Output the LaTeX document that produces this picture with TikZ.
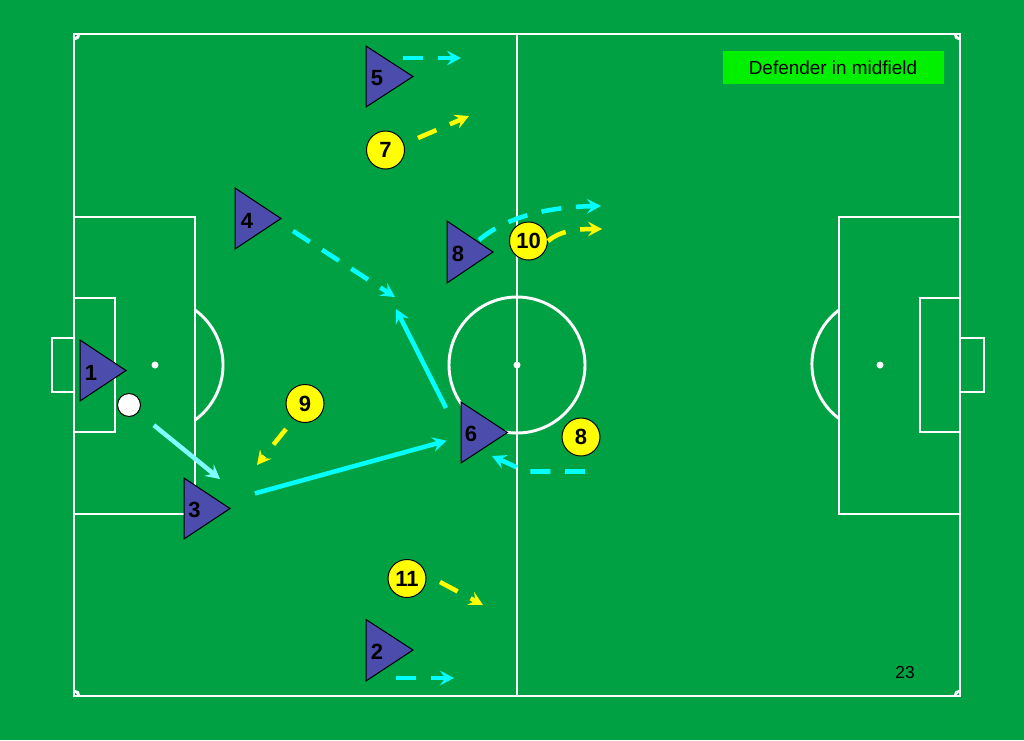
\documentclass[tikz,border=0pt]{standalone}
\usepackage{fontspec}
\setmainfont{Liberation Sans}
\usetikzlibrary{arrows.meta}

\definecolor{pitchGreen}{RGB}{0,161,67}
\definecolor{tagGreen}{RGB}{0,240,0}
\definecolor{playerBlue}{RGB}{76,76,172}
\definecolor{runCyan}{RGB}{0,255,255}
\definecolor{passCyan}{RGB}{128,255,255}
\definecolor{runYellow}{RGB}{255,255,0}

\tikzset{every picture/.style={line width=0.75pt}}
\tikzset{
  pitchline/.style={draw=white,line width=2.2pt},
  player/.style={draw=black,fill=playerBlue,line width=0.75pt},
  shirt/.style={font=\fontsize{16.5}{16.5}\selectfont\bfseries,inner sep=0pt},
  rival/.style={circle,draw=black,fill=runYellow,line width=0.75pt,minimum size=28.5pt,inner sep=0pt,font=\fontsize{16.5}{16.5}\selectfont\bfseries},
  runhead/.style={-{Stealth[length=10.5pt,width=11pt,inset=4pt]}},
  cyanrun/.style={runhead,draw=runCyan,line width=3.4pt,dash pattern=on 15pt off 11pt},
  yellowrun/.style={runhead,draw=runYellow,line width=3.4pt,dash pattern=on 15pt off 11pt},
  passline/.style={runhead,draw=runCyan,line width=3.4pt},
}

\begin{document}
\begin{tikzpicture}[x=0.75pt,y=0.75pt,yscale=-1,xscale=1]
%Shape: Rectangle [background]
\fill[pitchGreen] (0,0) rectangle (1024,740);
\useasboundingbox (0,0) rectangle (1024,740);

%Shape: Rectangle [touch lines]
\draw[pitchline] (74,34) rectangle (960,696);
%Straight Lines [halfway]
\draw[pitchline] (517,34) -- (517,696);
%Shape: Circle [centre circle]
\draw[pitchline] (517,365) circle [radius=68];
\fill[white] (517,365) circle [radius=3.5];
%Corner arcs
\draw[pitchline] (79,34) arc [start angle=0, end angle=90, radius=5];
\draw[pitchline] (955,34) arc [start angle=180, end angle=90, radius=5];
\draw[pitchline] (79,696) arc [start angle=0, end angle=-90, radius=5];
\draw[pitchline] (955,696) arc [start angle=180, end angle=270, radius=5];

%Left end
\draw[pitchline] (74,217) -- (195,217) -- (195,514) -- (74,514);
\draw[pitchline] (74,298) -- (115,298) -- (115,432) -- (74,432);
\draw[pitchline] (74,338) -- (52,338) -- (52,392) -- (74,392);
\draw[pitchline] (195,310) arc [start angle=-54, end angle=54, radius=68];
\fill[white] (155,365) circle [radius=3.5];
%Right end
\draw[pitchline] (960,217) -- (839,217) -- (839,514) -- (960,514);
\draw[pitchline] (960,298) -- (920,298) -- (920,432) -- (960,432);
\draw[pitchline] (960,338) -- (984,338) -- (984,392) -- (960,392);
\draw[pitchline] (839,310) arc [start angle=233, end angle=127, radius=68];
\fill[white] (880,365) circle [radius=3.5];

% Text Node
\node[fill=tagGreen, minimum width=165.75pt, minimum height=24.75pt, inner sep=0pt, font=\fontsize{14.2}{14.2}\selectfont] (tag) at (833,67.5) {Defender in midfield};
% Text Node
\node[font=\fontsize{13}{13}\selectfont, inner sep=0pt] (page) at (905,673) {23};

%Shape: Triangle [players]
\draw[player] (366,46) -- (413,76.5) -- (366,107) -- cycle;
\node[shirt] (p5) at (377,78) {5};
\draw[player] (235,188) -- (281,218.5) -- (235,249) -- cycle;
\node[shirt] (p4) at (247,220.5) {4};
\draw[player] (447,221) -- (493,252) -- (447,283) -- cycle;
\node[shirt] (p8) at (458,254) {8};
\draw[player] (80,340) -- (126,370.5) -- (80,401) -- cycle;
\node[shirt] (p1) at (91,373) {1};
\draw[player] (184,478) -- (230,508.5) -- (184,539) -- cycle;
\node[shirt] (p3) at (194.5,510) {3};
\draw[player] (461,402) -- (507.5,432.5) -- (461,463) -- cycle;
\node[shirt] (p6) at (471,434) {6};
\draw[player] (366,619.5) -- (413,650) -- (366,681) -- cycle;
\node[shirt] (p2) at (377,652) {2};

%Shape: Circle [opponents]
\node[rival] (o7) at (385.5,150) {7};
\node[rival] (o10) at (528.5,241) {10};
\node[rival] (o9) at (305,403.5) {9};
\node[rival] (o8) at (581,437) {8};
\node[rival] (o11) at (407,578.5) {11};
%Shape: Circle [ball]
\node[circle, draw=black, fill=white, minimum size=17.25pt, inner sep=0pt] (ball) at (129,405) {};

%Run ends
\coordinate (p5from) at (403,58);    \coordinate (p5to) at (461,58);
\coordinate (o7from) at (418,138);   \coordinate (o7to) at (469,116);
\coordinate (p4from) at (293,231);   \coordinate (p4to) at (395,297);
\coordinate (p6from) at (446,408);   \coordinate (p6to) at (396,309);
\coordinate (p8from) at (479,240);   \coordinate (p8to) at (601,206);
\coordinate (o10from) at (548,241);  \coordinate (o10to) at (602,229);
\coordinate (o9from) at (286,429);   \coordinate (o9to) at (257,465);
\coordinate (p3in) at (220,479);
\coordinate (o8from) at (585,471.5); \coordinate (o8to) at (492,456);
\coordinate (o11from) at (440,582);  \coordinate (o11to) at (483,605);
\coordinate (p2from) at (396,678);   \coordinate (p2to) at (454,678);

%Straight Lines [runs]
\draw[cyanrun] (p5from) -- (p5to);
\draw[yellowrun] (o7from) -- (o7to);
\draw[cyanrun] (p4from) -- (p4to);
\draw[passline] (p6from) -- (p6to);
%Curve Lines
\draw[cyanrun] (p8from) .. controls (505,218) and (545,207) .. (p8to);
\draw[yellowrun] (o10from) .. controls (560,231) and (575,229) .. (o10to);
\draw[yellowrun] (o9from) -- (o9to);
\draw[passline, draw=passCyan, shorten <=15pt] (ball) -- (p3in);
\draw[passline, shorten <=47pt, shorten >=19pt] (p3.center) -- (p6.center);
\draw[cyanrun] (o8from) -- (526,471.5) -- (o8to);
\draw[yellowrun] (o11from) -- (o11to);
\draw[cyanrun] (p2from) -- (p2to);

\end{tikzpicture}
\end{document}
